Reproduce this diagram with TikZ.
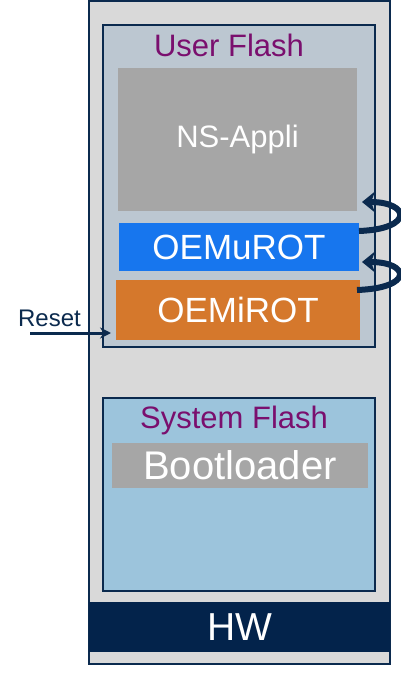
\documentclass[tikz,border=0pt]{standalone}
\usepackage{fontspec}
\setmainfont{Liberation Sans}
\usetikzlibrary{arrows.meta}
\definecolor{navy}{HTML}{0B2A4E}
\definecolor{outerfill}{HTML}{D9D9D9}
\definecolor{userfill}{HTML}{BCC7D1}
\definecolor{nsgray}{HTML}{A6A6A6}
\definecolor{ublue}{HTML}{1776EE}
\definecolor{iorange}{HTML}{D5782C}
\definecolor{sysfill}{HTML}{9CC4DC}
\definecolor{ttlpurple}{HTML}{7A0F6E}
\definecolor{hwfill}{HTML}{03234B}
\tikzset{
  frame/.style={draw=navy, line width=2pt, inner sep=0pt},
  block/.style={inner sep=0pt, text=white},
  title/.style={text=ttlpurple, inner sep=0pt, anchor=base, font=\fontsize{31}{31}\selectfont},
  loop/.style={draw=navy, line width=6pt, -{Stealth[length=13pt,width=21pt,inset=4pt]}},
}
\begin{document}
\begin{tikzpicture}[x=1pt,y=-1pt]
\useasboundingbox (0,0) rectangle (400,676);
% outer chip
\node[frame, fill=outerfill, minimum width=301pt, minimum height=663pt] (chip) at (239.5,332.5) {};
% user flash
\node[frame, fill=userfill, minimum width=272pt, minimum height=322pt] (user) at (239,186) {};
\node[title] (usertitle) at (229,57) {User Flash};
\node[block, fill=nsgray, minimum width=239pt, minimum height=143pt, font=\fontsize{31}{31}\selectfont] (ns) at (237.5,139.5) {NS-Appli};
\node[block, fill=ublue, minimum width=240pt, minimum height=48pt, font=\fontsize{35}{35}\selectfont] (urot) at (239,247) {OEMuROT};
\node[block, fill=iorange, minimum width=244pt, minimum height=60pt, font=\fontsize{35}{35}\selectfont] (irot) at (238,310) {OEMiROT};
% system flash
\node[frame, fill=sysfill, minimum width=272pt, minimum height=193pt] (sys) at (239,494.5) {};
\node[title] (systitle) at (234,428) {System Flash};
\node[block, fill=nsgray, minimum width=256pt, minimum height=45pt, font=\fontsize{40}{40}\selectfont] (boot) at (240,465.5) {Bootloader};
% HW
\node[block, fill=hwfill, minimum width=301pt, minimum height=50pt, font=\fontsize{39}{39}\selectfont] (hw) at (239.5,627) {HW};
% reset
\node[inner sep=0pt, anchor=base, text=navy, font=\fontsize{24}{24}\selectfont] (reset) at (49.5,326) {Reset};
\coordinate (rstart) at (30,333);
\coordinate (rend) at (111,333);
\draw[draw=navy, line width=3pt, -{Stealth[length=11pt,width=11pt]}] (rstart) -- (rend);
% loops
\coordinate (u1) at (359,231);
\coordinate (n1) at (362,202);
\coordinate (i1) at (357,290);
\coordinate (u2) at (362,262);
\draw[loop] (u1) .. controls (414,229) and (410,202) .. (n1);
\draw[loop] (i1) .. controls (414,288) and (410,262) .. (u2);
\end{tikzpicture}
\end{document}
